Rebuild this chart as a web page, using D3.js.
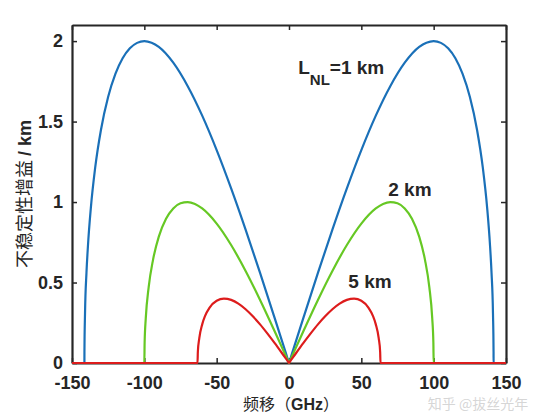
<html>
<head>
<meta charset="utf-8">
<script src="https://d3js.org/d3.v7.min.js"></script>
<style>
  body { margin: 0; background: #fff; }
</style>
</head>
<body>
<script>
// 频移 (GHz) / 不稳定性增益 (1/km), 读图所得
var freq1 = [-150, -141.42, -141.4, -141, -140, -139, -137, -134, -130, -125, -120, -115, -110, -105, -100, -95, -90, -80, -70, -60, -50, -40, -30, -20, -10, -3, -1, 0,
             1, 3, 10, 20, 30, 40, 50, 60, 70, 80, 90, 95, 100, 105, 110, 115, 120, 125, 130, 134, 137, 139, 140, 141, 141.4, 141.42, 150];
var gain1 = [0, 0, 0.070, 0.308, 0.560, 0.724, 0.961, 1.212, 1.448, 1.654, 1.796, 1.893, 1.955, 1.989, 2.000, 1.990, 1.964, 1.866, 1.720, 1.537, 1.323, 1.085, 0.829, 0.560, 0.282, 0.085, 0.028, 0,
             0.028, 0.085, 0.282, 0.560, 0.829, 1.085, 1.323, 1.537, 1.720, 1.866, 1.964, 1.990, 2.000, 1.989, 1.955, 1.893, 1.796, 1.654, 1.448, 1.212, 0.961, 0.724, 0.560, 0.308, 0.070, 0, 0];

var freq2 = [-150, -100, -99.8, -99, -97, -94, -90, -85, -80, -75, -70, -65, -60, -50, -40, -30, -20, -10, -3, -1, 0,
             1, 3, 10, 20, 30, 40, 50, 60, 65, 70, 75, 80, 85, 90, 94, 97, 99, 99.8, 100, 150];
var gain2 = [0, 0, 0.126, 0.279, 0.472, 0.641, 0.785, 0.896, 0.960, 0.992, 1.000, 0.988, 0.960, 0.866, 0.733, 0.572, 0.392, 0.199, 0.060, 0.020, 0,
             0.020, 0.060, 0.199, 0.392, 0.572, 0.733, 0.866, 0.960, 0.988, 1.000, 0.992, 0.960, 0.896, 0.785, 0.641, 0.472, 0.279, 0.126, 0, 0];

var freq5 = [-150, -63.25, -63, -62, -60, -58, -55, -50, -45, -40, -35, -30, -25, -20, -15, -10, -3, -1, 0,
             1, 3, 10, 15, 20, 25, 30, 35, 40, 45, 50, 55, 58, 60, 62, 63, 63.25, 150];
var gain5 = [0, 0, 0.070, 0.155, 0.240, 0.293, 0.343, 0.387, 0.400, 0.392, 0.369, 0.334, 0.290, 0.240, 0.184, 0.125, 0.038, 0.013, 0,
             0.013, 0.038, 0.125, 0.184, 0.240, 0.290, 0.334, 0.369, 0.392, 0.400, 0.387, 0.343, 0.293, 0.240, 0.155, 0.070, 0, 0];

var xTicks = [-150, -100, -50, 0, 50, 100, 150];
var yTicks = [0, 0.5, 1, 1.5, 2];

var w = 560, h = 416;
var m = {top: 25, right: 54, bottom: 53, left: 72};

var svg = d3.select("body").append("svg").attr("width", w).attr("height", h);

var x = d3.scaleLinear().domain([-150, 150]).range([m.left, w - m.right]);
var y = d3.scaleLinear().domain([0, 2.1]).range([h - m.bottom, m.top]);

var ink = "#262626";
var tickFont = "'Liberation Sans', Arial, sans-serif";
var cjkFont = "'Noto Sans CJK SC', sans-serif";

// 坐标轴 (刻度向内, 带框)
var fmt = function(d){ return String(d); };
var xAxis = svg.append("g").attr("transform", "translate(0," + (h - m.bottom) + ")")
  .call(d3.axisBottom(x).tickValues(xTicks).tickSize(-5).tickPadding(13).tickSizeOuter(0).tickFormat(fmt));
var yAxis = svg.append("g").attr("transform", "translate(" + m.left + ",0)")
  .call(d3.axisLeft(y).tickValues(yTicks).tickSize(-5).tickPadding(9).tickSizeOuter(0).tickFormat(fmt));
var xTop = svg.append("g").attr("transform", "translate(0," + m.top + ")")
  .call(d3.axisTop(x).tickValues(xTicks).tickSize(-5).tickFormat("").tickSizeOuter(0));
var yRight = svg.append("g").attr("transform", "translate(" + (w - m.right) + ",0)")
  .call(d3.axisRight(y).tickValues(yTicks).tickSize(-5).tickFormat("").tickSizeOuter(0));

[xAxis, yAxis, xTop, yRight].forEach(function(a){
  a.selectAll("path").attr("stroke", ink).attr("stroke-width", 2.2);
  a.selectAll("line").attr("stroke", ink).attr("stroke-width", 1.5);
  a.selectAll("text").attr("fill", ink).attr("font-family", tickFont)
    .attr("font-size", 18).attr("font-weight", "bold");
});
xAxis.selectAll("text").attr("dy", "0.71em");

// 曲线 (红线最后画, 盖住零线)
var line = d3.line()
  .x(function(d){ return x(d[0]); })
  .y(function(d){ return y(d[1]); })
  .curve(d3.curveMonotoneX);

var series = [
  {f: freq1, g: gain1, color: "#1a70b8"},
  {f: freq2, g: gain2, color: "#66c824"},
  {f: freq5, g: gain5, color: "#dd1c1c"}
];

series.forEach(function(s){
  var pts = s.f.map(function(v, i){ return [v, s.g[i]]; });
  svg.append("path")
    .datum(pts)
    .attr("d", line)
    .attr("fill", "none")
    .attr("stroke", s.color)
    .attr("stroke-width", 2.2)
    .attr("stroke-linejoin", "round");
});

// 曲线标注
var lab = svg.append("g").attr("font-family", tickFont).attr("font-weight", "bold")
  .attr("fill", ink).attr("font-size", 19);
var t1 = lab.append("text").attr("x", x(6.4)).attr("y", y(1.793));
t1.append("tspan").text("L");
t1.append("tspan").attr("dy", 11).attr("font-size", 15).text("NL");
t1.append("tspan").attr("dy", -11).text("=1 km");
lab.append("text").attr("x", x(68.6)).attr("y", y(1.04)).text("2 km");
lab.append("text").attr("x", x(41)).attr("y", y(0.467)).text("5 km");

// 轴标题
var xt = svg.append("text").attr("x", x(0) + 2).attr("y", 410).attr("text-anchor", "middle")
  .attr("fill", ink).attr("font-size", 16);
xt.append("tspan").attr("font-family", cjkFont).text("频移（");
xt.append("tspan").attr("font-family", tickFont).attr("font-weight", "bold").text("GHz");
xt.append("tspan").attr("font-family", cjkFont).text("）");

var yt = svg.append("text")
  .attr("transform", "translate(31," + ((m.top + h - m.bottom) / 2) + ") rotate(-90)")
  .attr("text-anchor", "middle").attr("fill", ink).attr("font-size", 18);
yt.append("tspan").attr("font-family", cjkFont).text("不稳定性增益 ");
yt.append("tspan").attr("font-family", tickFont).attr("font-weight", "bold").text("/ km");

// 水印
svg.append("text").attr("x", 478).attr("y", 409).attr("text-anchor", "middle")
  .attr("font-family", cjkFont).attr("font-size", 14)
  .attr("fill", "#c4c4c4").attr("fill-opacity", 0.7).text("知乎 @拔丝光年");
</script>
</body>
</html>
